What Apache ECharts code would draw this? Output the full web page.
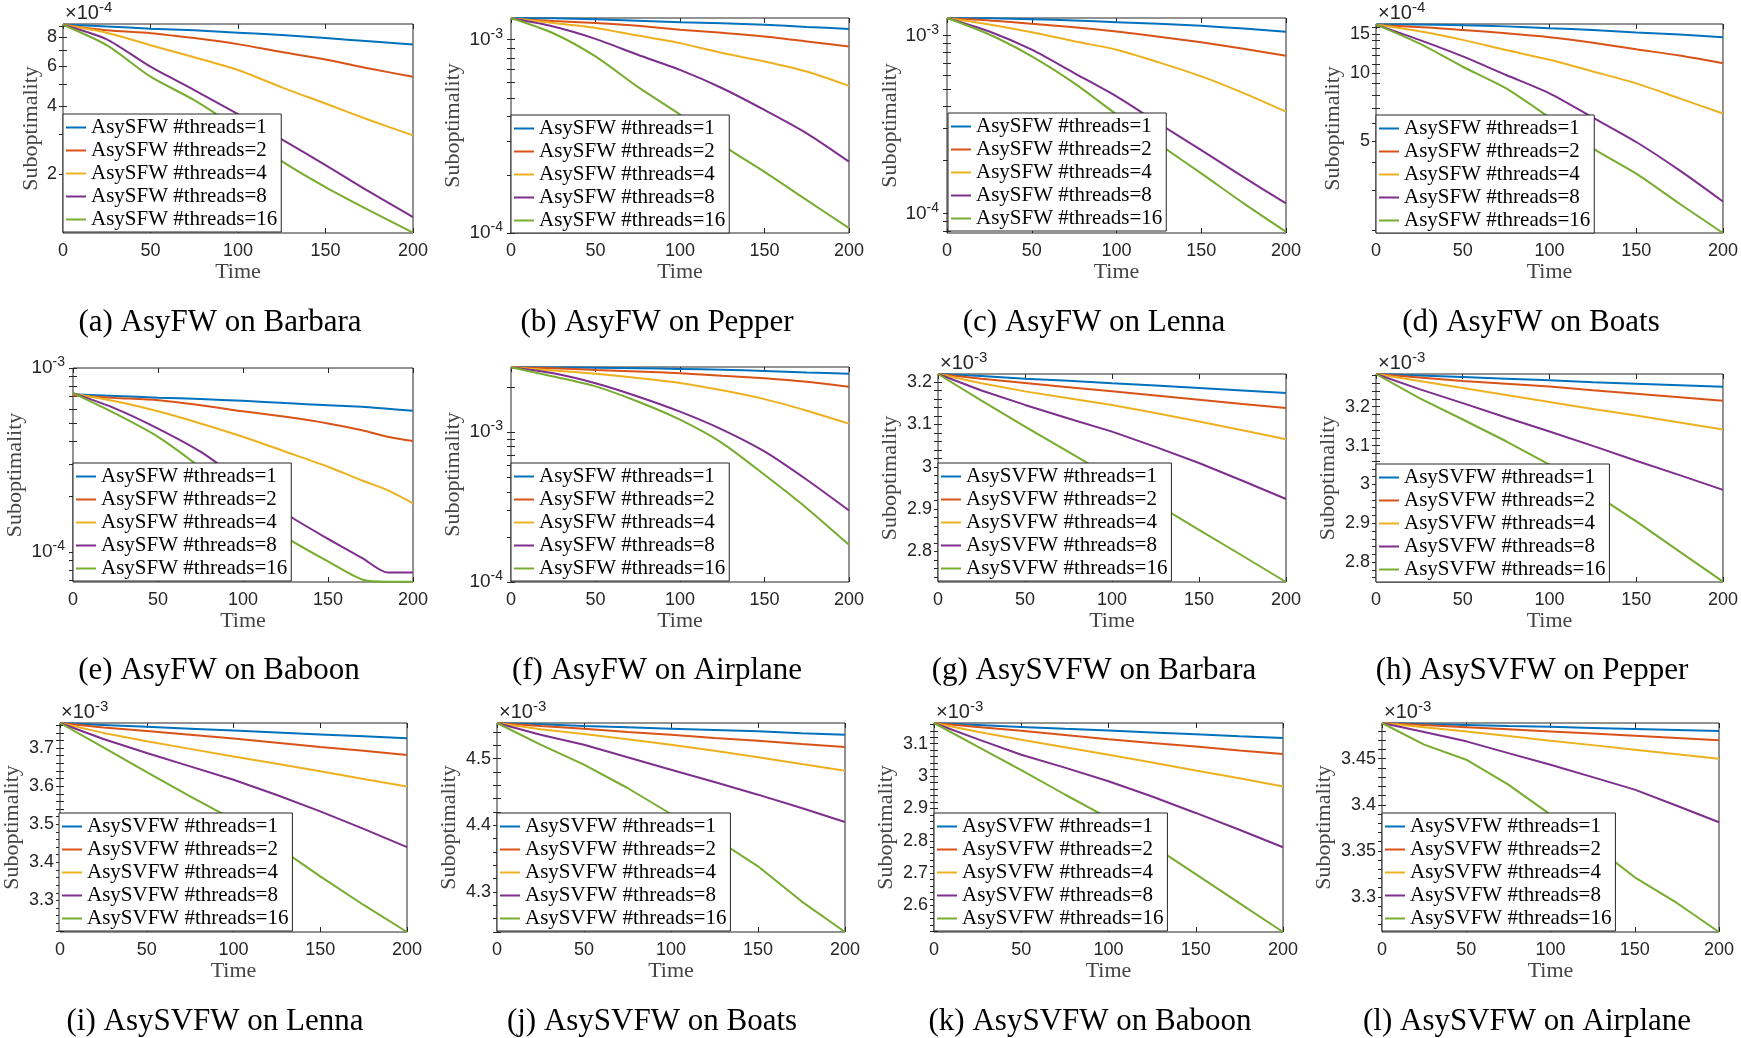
<!DOCTYPE html>
<html lang="en">
<head>
<meta charset="UTF-8">
<title>AsyFW / AsySVFW suboptimality vs time</title>
<script src="https://cdn.jsdelivr.net/npm/echarts@6/dist/echarts.min.js"></script>
<style>
  html, body { margin: 0; padding: 0; background: #fff; }
  #chart { width: 1741px; height: 1038px; }
</style>
</head>
<body>
<div id="chart"></div>
<script>
// ---- data ----
// time points (s) used for every panel, (e) has two extra points for the flat tails
var time = [0, 25, 50, 75, 100, 125, 150, 175, 200];
var timeE = [0, 25, 50, 75, 100, 125, 150, 170, 185, 200];
var threads = [1, 2, 4, 8, 16];

// AsyFW panels, suboptimality in units of 1e-4 (rows: 1, 2, 4, 8, 16 threads)
var barbaraFW = [
  [9.1, 8.95, 8.75, 8.6, 8.4, 8.2, 7.95, 7.7, 7.45],
  [9.1, 8.6, 8.36, 7.95, 7.48, 6.9, 6.4, 5.84, 5.38],
  [9.1, 8.4, 7.4, 6.55, 5.76, 4.83, 4.1, 3.47, 2.97],
  [9.1, 7.85, 5.95, 4.7, 3.68, 2.85, 2.2, 1.68, 1.3],
  [9.1, 7.4, 5.38, 4.24, 3.17, 2.29, 1.76, 1.39, 1.11]
];
var pepperFW = [
  [12.95, 12.9, 12.75, 12.55, 12.3, 12.15, 11.96, 11.65, 11.36],
  [12.8, 12.5, 12.2, 11.8, 11.27, 10.85, 10.4, 9.8, 9.23],
  [12.9, 12.2, 11.5, 10.5, 9.6, 8.53, 7.72, 6.85, 5.77],
  [12.9, 11.7, 10.1, 8.36, 6.98, 5.61, 4.33, 3.28, 2.34],
  [12.95, 10.8, 8.19, 5.7, 4.1, 2.85, 2.07, 1.48, 1.06]
];
var lennaFW = [
  [12.5, 12.45, 12.3, 12.1, 11.85, 11.6, 11.3, 10.9, 10.45],
  [12.4, 12.1, 11.6, 11.1, 10.5, 9.8, 9.13, 8.4, 7.68],
  [12.5, 11.5, 10.4, 9.25, 8.3, 7.05, 5.88, 4.74, 3.73],
  [12.5, 10.5, 8.3, 6.14, 4.54, 3.2, 2.27, 1.6, 1.14],
  [12.5, 10.1, 7.62, 5.39, 3.6, 2.45, 1.68, 1.14, 0.79]
];
var boatsFW = [
  [16.5, 16.5, 16.4, 16.2, 15.9, 15.6, 15.2, 14.9, 14.5],
  [16.4, 16.1, 15.6, 15.1, 14.5, 13.7, 12.8, 12.0, 11.1],
  [16.5, 15.4, 14.1, 12.7, 11.5, 10.2, 9.02, 7.73, 6.62],
  [16.5, 14.1, 11.9, 9.83, 8.14, 6.35, 4.94, 3.69, 2.68],
  [16.5, 13.6, 10.7, 8.57, 6.35, 4.63, 3.57, 2.62, 1.94]
];
var baboonFW = [
  [7.2, 7.05, 6.9, 6.78, 6.63, 6.45, 6.28, 6.15, 6.0, 5.85],
  [7.1, 6.88, 6.68, 6.28, 5.82, 5.43, 5.0, 4.59, 4.23, 4.01],
  [7.25, 6.6, 5.82, 5.0, 4.23, 3.51, 2.91, 2.45, 2.17, 1.84],
  [7.3, 6.02, 4.69, 3.51, 2.4, 1.62, 1.18, 0.93, 0.775, 0.775],
  [7.3, 5.65, 4.23, 2.88, 1.87, 1.21, 0.89, 0.71, 0.69, 0.69]
];
var airplaneFW = [
  [27.1, 27.0, 26.9, 26.7, 26.4, 26.1, 25.6, 25.0, 24.5],
  [27.1, 26.7, 26.0, 25.4, 24.7, 23.8, 22.9, 21.7, 20.1],
  [27.1, 25.8, 24.5, 23.0, 21.3, 19.0, 16.6, 13.9, 11.4],
  [27.1, 24.7, 21.2, 17.3, 13.7, 10.4, 7.43, 4.81, 3.0],
  [27.1, 23.5, 20.2, 16.0, 12.1, 8.45, 5.19, 3.11, 1.77]
];

// AsySVFW panels, suboptimality in units of 1e-3
var barbaraSVFW = [
  [3.219, 3.214, 3.208, 3.203, 3.197, 3.192, 3.186, 3.180, 3.174],
  [3.219, 3.208, 3.198, 3.188, 3.178, 3.168, 3.158, 3.148, 3.139],
  [3.219, 3.197, 3.178, 3.162, 3.146, 3.127, 3.107, 3.086, 3.065],
  [3.219, 3.180, 3.146, 3.114, 3.083, 3.047, 3.009, 2.967, 2.924],
  [3.219, 3.156, 3.095, 3.035, 2.975, 2.913, 2.851, 2.790, 2.728]
];
var pepperSVFW = [
  [3.284, 3.280, 3.276, 3.272, 3.268, 3.263, 3.259, 3.255, 3.251],
  [3.284, 3.275, 3.266, 3.259, 3.252, 3.242, 3.233, 3.224, 3.215],
  [3.284, 3.266, 3.248, 3.230, 3.212, 3.194, 3.177, 3.159, 3.141],
  [3.284, 3.245, 3.209, 3.172, 3.136, 3.099, 3.061, 3.024, 2.986],
  [3.284, 3.222, 3.167, 3.111, 3.051, 2.979, 2.905, 2.827, 2.750]
];
var lennaSVFW = [
  [3.766, 3.761, 3.756, 3.751, 3.746, 3.741, 3.736, 3.731, 3.726],
  [3.766, 3.754, 3.745, 3.735, 3.725, 3.714, 3.703, 3.693, 3.682],
  [3.766, 3.740, 3.718, 3.698, 3.678, 3.659, 3.639, 3.619, 3.599],
  [3.766, 3.724, 3.687, 3.652, 3.617, 3.577, 3.534, 3.488, 3.440],
  [3.766, 3.702, 3.637, 3.573, 3.512, 3.442, 3.363, 3.288, 3.217]
];
var boatsSVFW = [
  [4.5535, 4.5515, 4.549, 4.547, 4.545, 4.543, 4.541, 4.538, 4.536],
  [4.5535, 4.549, 4.545, 4.540, 4.536, 4.531, 4.527, 4.522, 4.5175],
  [4.5535, 4.544, 4.537, 4.529, 4.521, 4.512, 4.502, 4.492, 4.482],
  [4.5535, 4.536, 4.521, 4.502, 4.4835, 4.465, 4.446, 4.426, 4.405],
  [4.5535, 4.521, 4.491, 4.456, 4.417, 4.381, 4.3385, 4.286, 4.24]
];
var baboonSVFW = [
  [3.164, 3.158, 3.152, 3.146, 3.141, 3.135, 3.129, 3.123, 3.1175],
  [3.164, 3.152, 3.140, 3.127, 3.114, 3.102, 3.091, 3.079, 3.068],
  [3.164, 3.137, 3.112, 3.089, 3.066, 3.042, 3.017, 2.993, 2.968],
  [3.164, 3.114, 3.066, 3.026, 2.984, 2.937, 2.886, 2.834, 2.780],
  [3.164, 3.091, 3.018, 2.943, 2.870, 2.786, 2.697, 2.607, 2.518]
];
var airplaneSVFW = [
  [3.4887, 3.4876, 3.4866, 3.4855, 3.4845, 3.4834, 3.4823, 3.4812, 3.480],
  [3.4887, 3.4865, 3.4842, 3.4819, 3.4796, 3.4772, 3.4748, 3.4724, 3.470],
  [3.4887, 3.4842, 3.4796, 3.4745, 3.4695, 3.4647, 3.4598, 3.4549, 3.450],
  [3.4887, 3.479, 3.4688, 3.456, 3.4435, 3.430, 3.4164, 3.399, 3.381],
  [3.4887, 3.4652, 3.4489, 3.4218, 3.3893, 3.3568, 3.3213, 3.2935, 3.262]
];

// y tick labels
var ticksA = [2, 4, 6, 8];
var ticksD = [5, 10, 15];
var ticksDecade = [1, 10];          // 10^-4, 10^-3 (in units of 1e-4)
var ticksG = [2.8, 2.9, 3, 3.1, 3.2];
var ticksI = [3.3, 3.4, 3.5, 3.6, 3.7];
var ticksJ = [4.3, 4.4, 4.5];
var ticksK = [2.6, 2.7, 2.8, 2.9, 3, 3.1];
var ticksL = [3.3, 3.35, 3.4, 3.45];

// ---- styles ----
var colors = ['#0072BD', '#D95319', '#EDB120', '#7E2F8E', '#77AC30'];
var ink = '#262626';
var serif = 'Liberation Serif';
var sans = 'Liberation Sans';

function steps(from, to, step) {
  var out = [];
  for (var v = from; v <= to + 1e-9; v += step) out.push(+v.toFixed(4));
  return out;
}
var logMinor = [2, 3, 4, 5, 6, 7, 8, 9];

function fmtNum(v) { return String(+(+v).toFixed(2)); }
function fmtPow(v) {
  var e = Math.round(Math.log10(v)) - 4;
  return '{b|10}{s|' + e + '}';
}

// panel layout: plot box [left, top, right, bottom], legend box top-left, y-name gap, caption
var panels = [
  { sub: barbaraFW, t: time, log: true, min: 1.106, max: 9.17, labels: ticksA, fmt: fmtNum,
    ticks: logMinor, box: [63, 24, 413, 233], leg: [63, 114], gap: 21, exp: '-4',
    cap: '(a) AsyFW on Barbara', capX: 220, capY: 323 },
  { sub: pepperFW, t: time, log: true, min: 1.0, max: 12.95, labels: ticksDecade, fmt: fmtPow,
    ticks: [1].concat(logMinor, [10]), box: [511, 18, 849, 233], leg: [511, 115], gap: 47,
    cap: '(b) AsyFW on Pepper', capX: 657, capY: 323 },
  { sub: lennaFW, t: time, log: true, min: 0.778, max: 12.5, labels: ticksDecade, fmt: fmtPow,
    ticks: [0.8, 0.9, 1].concat(logMinor, [10]), box: [947, 18, 1286, 233], leg: [948, 113], gap: 46,
    cap: '(c) AsyFW on Lenna', capX: 1094, capY: 323 },
  { sub: boatsFW, t: time, log: true, min: 1.94, max: 16.6, labels: ticksD, fmt: fmtNum,
    ticks: logMinor.concat([10, 11, 12, 13, 14, 15, 16]), box: [1376, 24, 1724, 233], leg: [1376, 115], gap: 32, exp: '-4',
    cap: '(d) AsyFW on Boats', capX: 1531, capY: 323 },
  { sub: baboonFW, t: timeE, log: true, min: 0.688, max: 10, labels: ticksDecade, fmt: fmtPow,
    ticks: [0.7, 0.8, 0.9, 1].concat(logMinor, [10]), box: [73, 368, 413, 582], leg: [73, 463], gap: 47,
    cap: '(e) AsyFW on Baboon', capX: 219, capY: 671 },
  { sub: airplaneFW, t: time, log: true, min: 1.0, max: 27.2, labels: ticksDecade, fmt: fmtPow,
    ticks: [1].concat(logMinor, [10, 20]), box: [511, 367, 849, 582], leg: [511, 463], gap: 47,
    cap: '(f) AsyFW on Airplane', capX: 657, capY: 671 },
  { sub: barbaraSVFW, t: time, log: false, min: 2.728, max: 3.219, labels: ticksG, fmt: fmtNum,
    ticks: steps(2.74, 3.2, 0.02), box: [938, 374, 1286, 582], leg: [938, 463], gap: 37, exp: '-3',
    cap: '(g) AsySVFW on Barbara', capX: 1094, capY: 671 },
  { sub: pepperSVFW, t: time, log: false, min: 2.749, max: 3.284, labels: ticksG, fmt: fmtNum,
    ticks: steps(2.76, 3.28, 0.02), box: [1376, 374, 1724, 582], leg: [1376, 464], gap: 37, exp: '-3',
    cap: '(h) AsySVFW on Pepper', capX: 1532, capY: 671 },
  { sub: lennaSVFW, t: time, log: false, min: 3.217, max: 3.766, labels: ticksI, fmt: fmtNum,
    ticks: steps(3.22, 3.76, 0.02), box: [59, 723, 407, 932], leg: [59, 813], gap: 37, exp: '-3',
    cap: '(i) AsySVFW on Lenna', capX: 215, capY: 1022 },
  { sub: boatsSVFW, t: time, log: false, min: 4.24, max: 4.5535, labels: ticksJ, fmt: fmtNum,
    ticks: steps(4.24, 4.54, 0.02), box: [497, 723, 845, 932], leg: [497, 813], gap: 37, exp: '-3',
    cap: '(j) AsySVFW on Boats', capX: 652, capY: 1022 },
  { sub: baboonSVFW, t: time, log: false, min: 2.518, max: 3.164, labels: ticksK, fmt: fmtNum,
    ticks: steps(2.52, 3.16, 0.02), box: [934, 723, 1283, 932], leg: [934, 813], gap: 37, exp: '-3',
    cap: '(k) AsySVFW on Baboon', capX: 1090, capY: 1022 },
  { sub: airplaneSVFW, t: time, log: false, min: 3.262, max: 3.4887, labels: ticksL, fmt: fmtNum,
    ticks: steps(3.27, 3.48, 0.01), box: [1382, 723, 1719, 932], leg: [1382, 813], gap: 47, exp: '-3',
    cap: '(l) AsySVFW on Airplane', capX: 1527, capY: 1022 }
];

var grid = [], xAxis = [], yAxis = [], series = [], legend = [], graphic = [];

panels.forEach(function (p, i) {
  var b = p.box;
  grid.push({
    left: b[0], top: b[1], width: b[2] - b[0], height: b[3] - b[1],
    show: true, borderColor: ink, borderWidth: 1
  });

  var tickStyle = { inside: true, length: 5, lineStyle: { color: ink, width: 1 } };
  xAxis.push({
    gridIndex: i, type: 'value', min: 0, max: 200, interval: 50, position: 'bottom',
    axisLine: { show: false }, splitLine: { show: false }, axisTick: tickStyle,
    axisLabel: { margin: 9, fontFamily: sans, fontSize: 18, color: ink },
    name: 'Time', nameLocation: 'middle', nameGap: 28,
    nameTextStyle: { fontFamily: serif, fontSize: 22, color: '#444' }
  });
  xAxis.push({
    gridIndex: i, type: 'value', min: 0, max: 200, interval: 50, position: 'top',
    axisLine: { show: false }, splitLine: { show: false }, axisTick: tickStyle,
    axisLabel: { show: false }
  });

  var yTick = { inside: true, length: 4, customValues: p.ticks, lineStyle: { color: ink, width: 1 } };
  var yType = p.log ? 'log' : 'value';
  yAxis.push({
    gridIndex: i, type: yType, logBase: 10, min: p.min, max: p.max, position: 'left',
    axisLine: { show: false }, splitLine: { show: false }, axisTick: yTick,
    axisLabel: {
      customValues: p.labels, formatter: p.fmt, margin: p.fmt === fmtPow ? 8 : 6,
      fontFamily: sans, fontSize: 18, color: ink,
      rich: {
        b: { fontFamily: sans, fontSize: 19, color: ink },
        s: { fontFamily: sans, fontSize: 14, color: ink, padding: [0, 0, 11, 0] }
      }
    },
    name: 'Suboptimality', nameLocation: 'middle', nameGap: p.gap,
    nameTextStyle: { fontFamily: serif, fontSize: 22, color: '#444' }
  });
  yAxis.push({
    gridIndex: i, type: yType, logBase: 10, min: p.min, max: p.max, position: 'right',
    axisLine: { show: false }, splitLine: { show: false }, axisTick: yTick,
    axisLabel: { show: false }
  });

  var prefix = i < 6 ? 'AsySFW' : 'AsySVFW';
  var names = [];
  p.sub.forEach(function (vals, k) {
    var name = prefix + ' #threads=' + threads[k];
    names.push(name);
    series.push({
      type: 'line', name: name, xAxisIndex: 2 * i, yAxisIndex: 2 * i,
      data: p.t.map(function (t, j) { return [t, vals[j]]; }),
      symbol: 'none', showSymbol: false, smooth: p.log ? 0.25 : false,
      color: colors[k], lineStyle: { width: 2, color: colors[k] },
      animation: false
    });
  });

  legend.push({
    left: p.leg[0], top: p.leg[1], orient: 'vertical', selectedMode: false,
    data: names, backgroundColor: '#fff', borderColor: ink, borderWidth: 1,
    padding: [2, 4, 1, 3], itemGap: 0, itemWidth: 20, itemHeight: 2, icon: 'rect',
    textStyle: { fontFamily: serif, fontSize: 21, color: '#000', lineHeight: 23 }
  });

  if (p.exp) {
    graphic.push({
      type: 'text', left: b[0] + 2, top: b[1] - 24,
      style: {
        text: '{a|\u00d710}{s|' + p.exp + '}',
        rich: {
          a: { fontFamily: sans, fontSize: 20, fill: ink },
          s: { fontFamily: sans, fontSize: 15, fill: ink, padding: [0, 0, 11, 0] }
        }
      }
    });
  }
  graphic.push({
    type: 'text', x: p.capX, y: p.capY,
    style: { text: p.cap, fontFamily: serif, fontSize: 31, fill: '#000', align: 'center', verticalAlign: 'middle' }
  });
});

var chart = echarts.init(document.getElementById('chart'));
chart.setOption({
  backgroundColor: '#fff',
  animation: false,
  grid: grid,
  xAxis: xAxis,
  yAxis: yAxis,
  legend: legend,
  series: series,
  graphic: graphic
});
</script>
</body>
</html>
